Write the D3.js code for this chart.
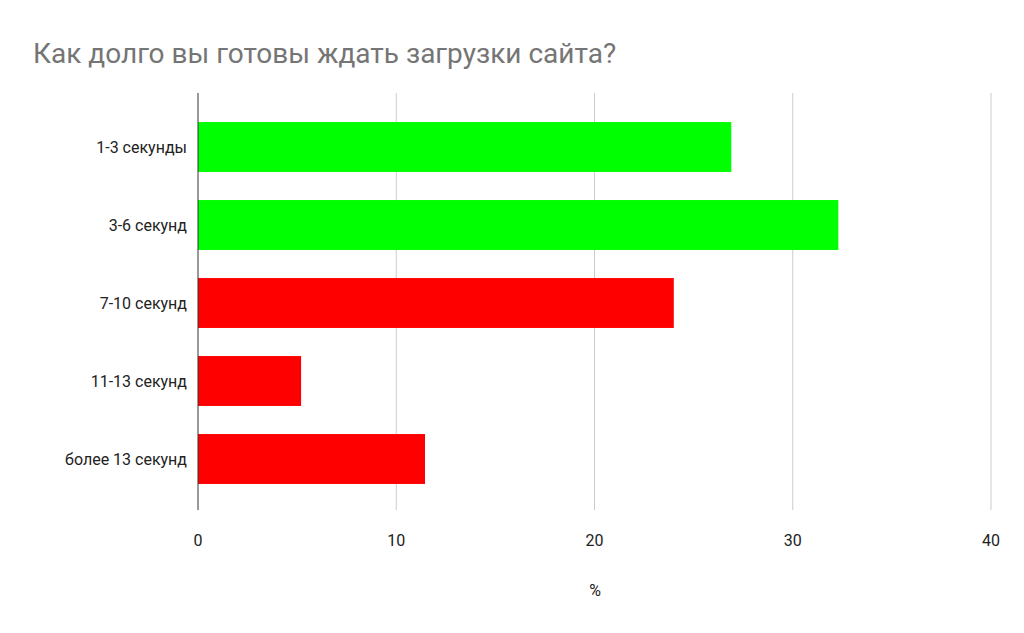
<!DOCTYPE html>
<html><head><meta charset="utf-8">
<script src="https://cdn.jsdelivr.net/npm/d3@7"></script>
<style>body{margin:0;background:#fff}text{font-family:Roboto,Arial,sans-serif}</style>
</head><body>
<script>
var categories = ["1-3 секунды", "3-6 секунд", "7-10 секунд", "11-13 секунд", "более 13 секунд"];
var values = [26.9, 32.3, 24.0, 5.2, 11.45];
var colors = ["#00ff00", "#00ff00", "#ff0000", "#ff0000", "#ff0000"];
var ticks = [0, 10, 20, 30, 40];

var width = 1024, height = 633;
var svg = d3.select("body").append("svg").attr("width", width).attr("height", height);

var x = d3.scaleLinear().domain([0, 40]).range([198, 991]);
var y = d3.scaleBand().domain(categories).range([108, 498]).paddingInner(0.36).paddingOuter(0.18);

// title
svg.append("text").text("Как долго вы готовы ждать загрузки сайта?")
    .attr("x", 33).attr("y", 63).attr("font-size", 28).attr("fill", "#757575");

// grid
svg.selectAll(".grid").data(ticks.slice(1)).enter().append("line")
    .attr("x1", function(d){ return x(d); }).attr("x2", function(d){ return x(d); })
    .attr("y1", 93).attr("y2", 510)
    .attr("stroke", "#cccccc").attr("stroke-width", 1);

// bars
svg.selectAll(".bar").data(values).enter().append("rect")
    .attr("x", x(0))
    .attr("y", function(d, i){ return y(categories[i]); })
    .attr("width", function(d){ return x(d) - x(0); })
    .attr("height", y.bandwidth())
    .attr("fill", function(d, i){ return colors[i]; });

// axis line
svg.append("line").attr("x1", x(0)).attr("x2", x(0)).attr("y1", 93).attr("y2", 510)
    .attr("stroke", "#333").attr("stroke-width", 1);

// category labels
svg.selectAll(".cat").data(categories).enter().append("text")
    .text(function(d){ return d; })
    .attr("x", 187).attr("y", function(d){ return y(d) + y.bandwidth()/2; })
    .attr("dy", "0.35em").attr("text-anchor", "end")
    .attr("font-size", 16).attr("fill", "#222");

// tick labels
svg.selectAll(".tick").data(ticks).enter().append("text")
    .text(function(d){ return d; })
    .attr("x", function(d){ return x(d); }).attr("y", 546)
    .attr("text-anchor", "middle").attr("font-size", 16).attr("fill", "#222");

svg.append("text").text("%").attr("x", 595).attr("y", 596)
    .attr("text-anchor", "middle").attr("font-size", 16).attr("fill", "#222");
</script>
</body></html>
